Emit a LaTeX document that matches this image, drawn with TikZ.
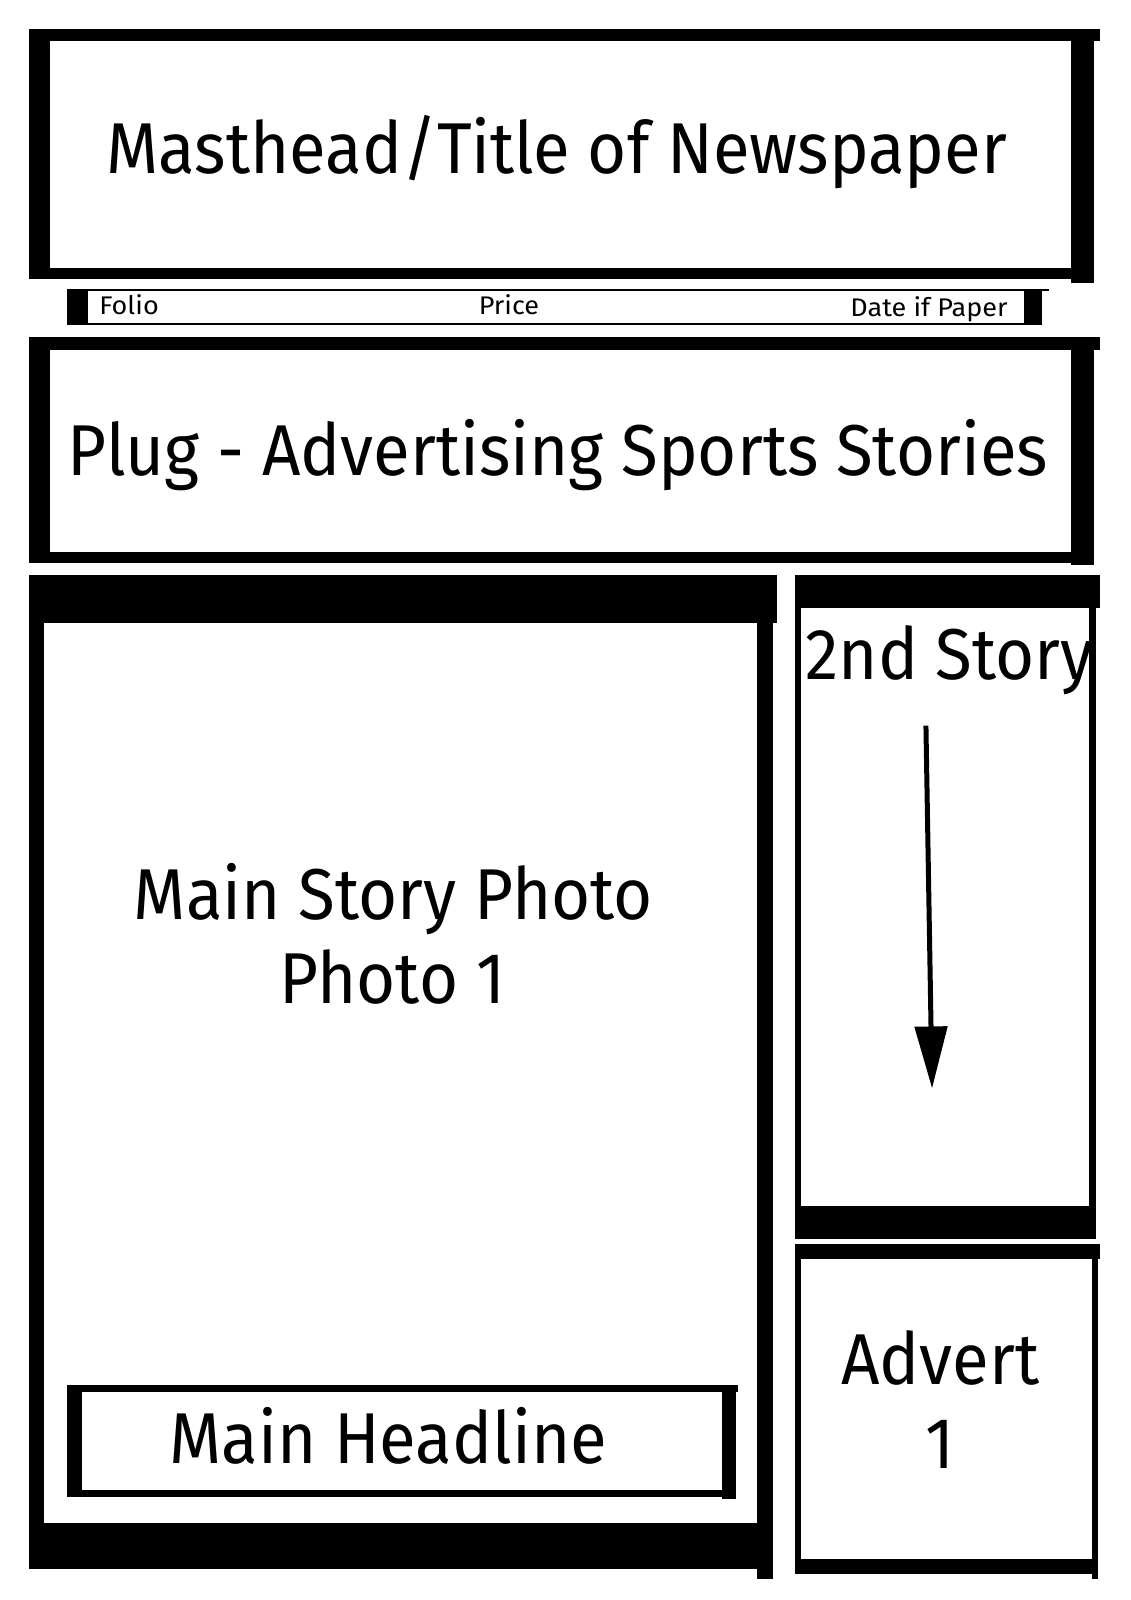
\documentclass[tikz,border=0pt]{standalone}
\usepackage{fontspec}
\setmainfont{Fira Sans}
\newfontfamily\bigfont[FakeStretch=0.932]{Fira Sans}
\newfontfamily\smallfont[FakeStretch=1.06]{Fira Sans}
\usetikzlibrary{arrows.meta}

\begin{document}
\begin{tikzpicture}[x=1.022pt, y=-1.022pt,
	bar/.style={fill=black},
	big/.style={font=\bigfont\fontsize{72}{80}\selectfont, inner sep=0pt},
	small/.style={font=\smallfont\fontsize{25.5}{28}\selectfont, inner sep=0pt}]
		\useasboundingbox[fill=white] (0, 0) rectangle (1106.65, 1565.56);
		%% masthead
		\fill[bar] (28, 28) rectangle (1076, 40);
		\fill[bar] (28, 28) rectangle (49, 272);
		\fill[bar] (28, 262) rectangle (1049, 273);
		\fill[bar] (1048, 28) rectangle (1070, 277);
		\node[big, anchor=base] (masthead) at (545, 170) {Masthead/Title of Newspaper};
		%% folio bar
		\fill[bar] (66, 283) rectangle (86, 318);
		\fill[bar] (86, 283) rectangle (1026, 285);
		\fill[bar] (86, 316) rectangle (1002, 318);
		\fill[bar] (1002, 285) rectangle (1020, 318);
		\node[small, anchor=base west] (folio) at (97, 308) {Folio};
		\node[small, anchor=base] (price) at (498, 308) {Price};
		\node[small, anchor=base east] (date) at (986, 310) {Date if Paper};
		%% plug
		\fill[bar] (28, 330) rectangle (1076, 342);
		\fill[bar] (28, 330) rectangle (49, 550);
		\fill[bar] (28, 540) rectangle (1049, 551);
		\fill[bar] (1048, 330) rectangle (1070, 553);
		\node[big, anchor=base] (plug) at (546, 465) {Plug - Advertising Sports Stories};
		%% main story
		\fill[bar] (28, 563) rectangle (760, 610);
		\fill[bar] (28, 563) rectangle (43, 1535);
		\fill[bar] (741, 610) rectangle (756, 1545);
		\fill[bar] (28, 1490) rectangle (741, 1535);
		\node[big, anchor=base] (photo) at (385, 900) {Main Story Photo};
		\node[big, anchor=base] (photoone) at (384, 982) {Photo 1};
		%% headline
		\fill[bar] (66, 1355) rectangle (722, 1362);
		\fill[bar] (66, 1355) rectangle (80, 1465);
		\fill[bar] (66, 1458) rectangle (708, 1465);
		\fill[bar] (706, 1355) rectangle (720, 1467);
		\node[big, anchor=base] (headline) at (380, 1432) {Main Headline};
		%% 2nd story
		\fill[bar] (778, 563) rectangle (1076, 595);
		\fill[bar] (778, 563) rectangle (784, 1212);
		\fill[bar] (1066, 595) rectangle (1072, 1212);
		\fill[bar] (778, 1180) rectangle (1072, 1212);
		\node[big, anchor=base west] (second) at (788, 665) {2nd Story};
		\coordinate (arrowtop) at (906, 710);
		\coordinate (arrowtip) at (912, 1065);
		\draw[line width=5pt, -{Triangle[length=62pt, width=32pt]}] (arrowtop) -- (arrowtip);
		%% advert
		\fill[bar] (778, 1217) rectangle (1076, 1232);
		\fill[bar] (778, 1217) rectangle (784, 1540);
		\fill[bar] (1068, 1232) rectangle (1074, 1545);
		\fill[bar] (778, 1525) rectangle (1074, 1540);
		\node[big, anchor=base] (advert) at (920, 1355) {Advert};
		\node[big, anchor=base] (advertone) at (920, 1437) {1};
	\end{tikzpicture}
\end{document}
